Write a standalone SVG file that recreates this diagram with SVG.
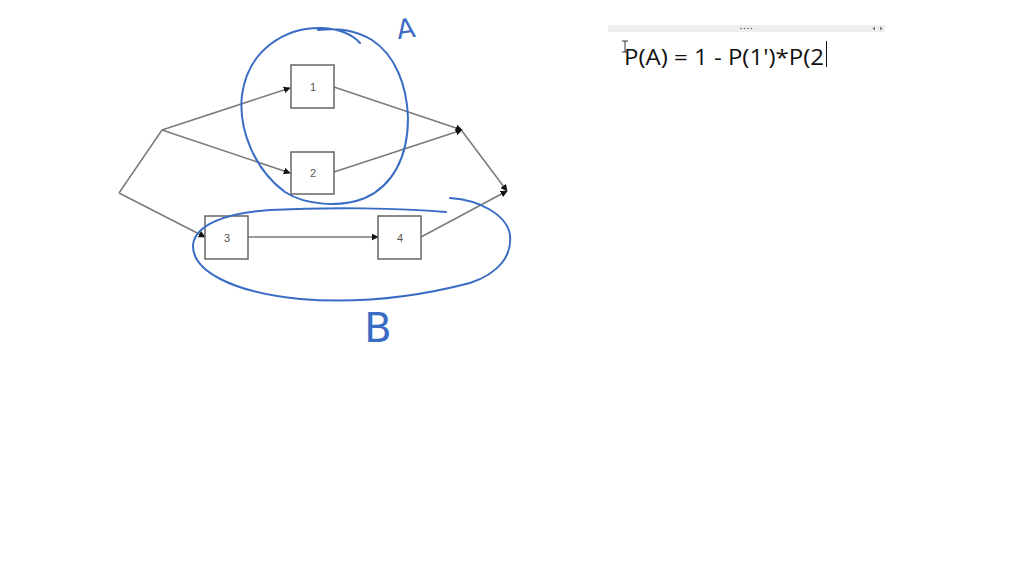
<svg xmlns="http://www.w3.org/2000/svg" width="1024" height="576" viewBox="0 0 1024 576">
<style>
.box{fill:#fff;stroke:#666;stroke-width:1.5}
.lbl{font-family:"Liberation Sans",Arial,sans-serif;font-size:11px;fill:#555;text-anchor:middle}
.edge{stroke:#7a7a7a;stroke-width:1.5;fill:none}
.ink{stroke:#3a6cc4;stroke-width:2;fill:none;stroke-linecap:round;stroke-linejoin:round}
.hand{font-family:"DejaVu Sans",sans-serif;fill:#3a6cc4}
</style>
<defs>
<marker id="ah" viewBox="0 0 10 10" refX="9" refY="5" markerWidth="7" markerHeight="7" markerUnits="userSpaceOnUse" orient="auto">
<path d="M0,0 L10,5 L0,10 z" fill="#111"/>
</marker>
</defs>
<rect width="1024" height="576" fill="#fff"/>
<g id="connectors">
<path class="edge" d="M119,193 L162,130"/>
<path class="edge" d="M162,130 L290,88" marker-end="url(#ah)"/>
<path class="edge" d="M162,130 L290,173" marker-end="url(#ah)"/>
<path class="edge" d="M119,193 L205,237" marker-end="url(#ah)"/>
<path class="edge" d="M248,237 L378,237" marker-end="url(#ah)"/>
<path class="edge" d="M334,87 L462,130" marker-end="url(#ah)"/>
<path class="edge" d="M334,172 L462,130" marker-end="url(#ah)"/>
<path class="edge" d="M462,131 L507,191" marker-end="url(#ah)"/>
<path class="edge" d="M421,237 L507,191" marker-end="url(#ah)"/>
</g>
<g id="node1"><rect class="box" x="291" y="65" width="43" height="43"/><text class="lbl" x="313" y="91">1</text></g>
<g id="node2"><rect class="box" x="291" y="152" width="43" height="42"/><text class="lbl" x="313" y="177">2</text></g>
<g id="node3"><rect class="box" x="205" y="216" width="43" height="43"/><text class="lbl" x="227" y="242">3</text></g>
<g id="node4"><rect class="box" x="378" y="216" width="43" height="43"/><text class="lbl" x="400" y="242">4</text></g>
<g id="groupA">
<path class="ink" d="M360,43 C352,34 340,29 322,28 C285,27 248,50 242,95 C238,130 255,170 285,192 C305,205 340,208 365,198 C392,186 408,158 408,118 C407,85 395,55 372,40 C355,30 340,28 318,30"/>
<text class="hand" x="406" y="38" font-size="27" text-anchor="middle" transform="rotate(-8 406 30)">A</text>
</g>
<g id="groupB">
<path class="ink" d="M446,212 C400,208 330,207 270,210 C225,213 195,225 193,245 C192,270 230,292 300,299 C360,304 420,296 470,283 C500,273 512,255 510,235 C507,215 480,200 450,198"/>
<text class="hand" x="378" y="342" font-size="40" text-anchor="middle">B</text>
</g>
<g id="toolbar">
<rect x="608" y="25" width="277" height="7" fill="#eeeeee"/>
<circle cx="741" cy="28.5" r="0.8" fill="#666"/>
<circle cx="744.5" cy="28.5" r="0.8" fill="#666"/>
<circle cx="748" cy="28.5" r="0.8" fill="#666"/>
<circle cx="751.5" cy="28.5" r="0.8" fill="#666"/>
<path d="M875,26.5 L872.5,28.5 L875,30.5 z M880,26.5 L882.5,28.5 L880,30.5 z" fill="#777"/>
</g>
<g id="formula">
<text x="624" y="65" font-family="'Open Sans','Liberation Sans',sans-serif" font-size="22" fill="#111" textLength="200" lengthAdjust="spacingAndGlyphs">P(A) = 1 - P(1')*P(2</text>
<line x1="826.5" y1="41" x2="826.5" y2="67" stroke="#111" stroke-width="1"/>
<path d="M622,41 L628,41 M625,41 L625,52 M622,52 L628,52" stroke="#333" stroke-width="1" fill="none"/>
</g>
</svg>
